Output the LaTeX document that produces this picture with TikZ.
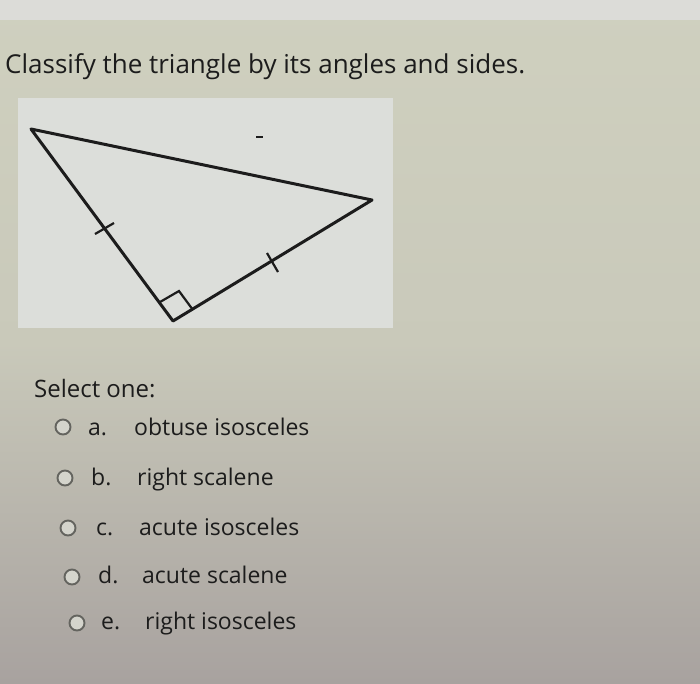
\documentclass[tikz,border=0pt]{standalone}
\usepackage{fontspec}
\setmainfont{Open Sans}
\definecolor{bgtop}{HTML}{CFD0BF}
\definecolor{bgbot}{HTML}{A8A29F}
\definecolor{strip}{HTML}{DCDCD8}
\definecolor{panel}{HTML}{DCDEDA}
\definecolor{ink}{HTML}{1C1C1C}
\definecolor{radio}{HTML}{64645F}
\definecolor{radiofill}{HTML}{D4D4CC}
\tikzset{
  txt/.style={anchor=base west, inner sep=0pt, text=ink},
  title/.style={txt, font=\fontsize{26}{30}\selectfont},
  opt/.style={txt, font=\fontsize{23}{26}\selectfont},
  edge/.style={draw=ink, line width=3pt, line join=round, line cap=round},
  tickmark/.style={draw=ink, line width=2.2pt},
  radiobtn/.style={circle, draw=radio, fill=radiofill, line width=1.9pt, minimum size=15pt, inner sep=0pt},
}
\begin{document}
\begin{tikzpicture}[x=1pt,y=-1pt]
\useasboundingbox (0,0) rectangle (700,683);
% background
\shade[top color=bgtop, bottom color=bgbot, middle color=bgtop!85!bgbot] (0,0) rectangle (700,683);
\fill[strip] (0,0) rectangle (700,20);
\fill[panel] (18,98) rectangle (393,328);
% title
\node[title] (title) at (5,73) {Classify the triangle by its angles and sides.};
% triangle
\coordinate (A) at (31,129);
\coordinate (B) at (372,200);
\coordinate (C) at (173,321);
\draw[edge] (A) -- (B) -- (C) -- cycle;
\coordinate (r1) at (160,302);
\coordinate (r2) at (179,291);
\coordinate (r3) at (193,310);
\draw[tickmark] (r1) -- (r2) -- (r3);
\coordinate (t1a) at (95,234);
\coordinate (t1b) at (114,223);
\draw[tickmark] (t1a) -- (t1b);
\coordinate (t2a) at (267,253);
\coordinate (t2b) at (278,272);
\draw[tickmark] (t2a) -- (t2b);
\coordinate (d1) at (256,137);
\coordinate (d2) at (263,137);
\draw[ink, line width=1.4pt] (d1) -- (d2);
% options
\node[opt, font=\fontsize{24}{28}\selectfont] (sel) at (34,397) {Select one:};
\node[radiobtn] (ra) at (63,427) {};
\node[opt] (la) at (88,435) {a.};
\node[opt] (ta) at (134,435) {obtuse isosceles};
\node[radiobtn] (rb) at (65,478) {};
\node[opt] (lb) at (91,485) {b.};
\node[opt] (tb) at (137,485) {right scalene};
\node[radiobtn] (rc) at (68,528) {};
\node[opt] (lc) at (96,535) {c.};
\node[opt] (tc) at (139,535) {acute isosceles};
\node[radiobtn] (rd) at (72,577) {};
\node[opt] (ld) at (98,583) {d.};
\node[opt] (td) at (142,583) {acute scalene};
\node[radiobtn] (re) at (77,623) {};
\node[opt] (le) at (101,629) {e.};
\node[opt] (te) at (145,629) {right isosceles};
\end{tikzpicture}
\end{document}
